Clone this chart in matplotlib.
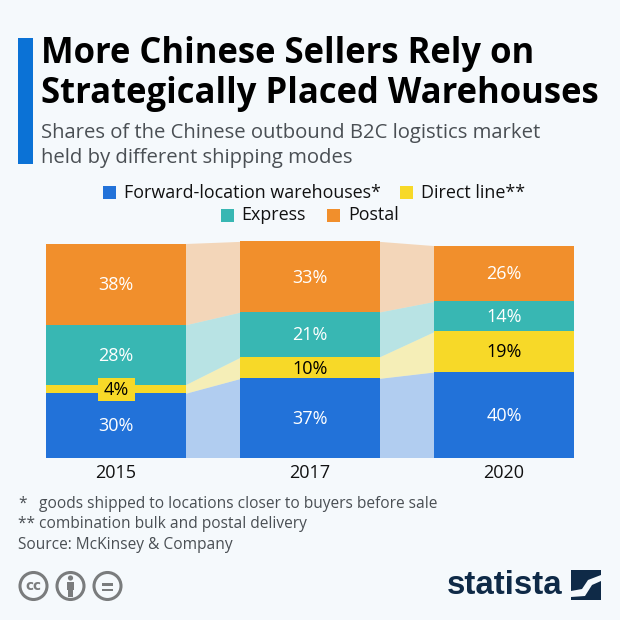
import matplotlib
matplotlib.use('Agg')
import matplotlib.pyplot as plt
from matplotlib.patches import Rectangle, Circle, Polygon

years = ['2015', '2017', '2020']
forward = [30, 37, 40]
direct = [4, 10, 19]
express = [28, 21, 14]
postal = [38, 33, 26]

series_names = ['Forward-location warehouses*', 'Direct line**', 'Express', 'Postal']
series_values = [forward, direct, express, postal]
colors = ['#2272d9', '#f7d928', '#38b7b3', '#f18f2c']
label_colors = ['white', 'black', 'white', 'white']

BG = '#f5f9fc'
FONT = 'Open Sans'
PX = 0.72  # px -> pt at 100 dpi
BAR_W = 140 / 194
OVERLAP = 0.004  # bands run slightly under the bars so no seam shows

fig = plt.figure(figsize=(6.2, 6.2), dpi=100, facecolor=BG)

# chart area, in data units
ax = fig.add_axes([46 / 620, (620 - 457.5) / 620, 528 / 620, 214 / 620])
ax.set_facecolor('none')
ax.set_xlim(-70 / 194, 2 + 70 / 194)
ax.set_ylim(0, 100)
for s in ax.spines.values():
    s.set_visible(False)
ax.set_yticks([])
ax.set_xticks(range(len(years)))
ax.set_xticklabels(years, family=FONT, fontsize=18 * PX, color='#111111')
ax.tick_params(axis='x', length=0, pad=5)

bottoms = [0, 0, 0]
for values, color, lab_col in zip(series_values, colors, label_colors):
    tops = [b + v for b, v in zip(bottoms, values)]
    ax.bar(range(len(years)), values, bottom=bottoms, width=BAR_W, color=color,
           linewidth=0, clip_on=False, zorder=2)
    # pale bands joining neighbouring bars
    for i in range(len(years) - 1):
        xs = [i + BAR_W / 2 - OVERLAP, i + 1 - BAR_W / 2 + OVERLAP]
        ax.fill_between(xs, [bottoms[i], bottoms[i + 1]], [tops[i], tops[i + 1]],
                        color=color, alpha=0.32, linewidth=0, clip_on=False, zorder=1)
    for i, v in enumerate(values):
        mid = bottoms[i] + v / 2
        if v < 6:
            # thin segment: label sits on its own patch
            ax.add_patch(Rectangle((i - 18.5 / 194, mid - 11.5 / 2.14), 37 / 194, 23 / 2.14,
                                   facecolor=color, edgecolor='none', zorder=4, clip_on=False))
        ax.annotate(f'{v}%', (i, mid), xytext=(0, 0.8), textcoords='offset points',
                    ha='center', va='center_baseline', family=FONT,
                    fontsize=18 * PX, color=lab_col, zorder=5)
    bottoms = tops

# overlay in pixel coordinates for header, legend and footer
ov = fig.add_axes([0, 0, 1, 1], zorder=-1)
ov.set_xlim(0, 620)
ov.set_ylim(620, 0)
ov.axis('off')

ov.add_patch(Rectangle((18, 38), 15, 126, facecolor='#0b72d6', edgecolor='none'))

ov.text(41, 54.5, 'More Chinese Sellers Rely on', family=FONT, fontweight='bold',
        fontsize=34.7 * PX, color='black', va='center', ha='left')
ov.text(41, 94.5, 'Strategically Placed Warehouses', family=FONT, fontweight='bold',
        fontsize=34.7 * PX, color='black', va='center', ha='left')
ov.text(41, 133, 'Shares of the Chinese outbound B2C logistics market', family=FONT,
        fontsize=20.3 * PX, color='#4a4f54', va='center', ha='left')
ov.text(41, 158, 'held by different shipping modes', family=FONT,
        fontsize=20.3 * PX, color='#4a4f54', va='center', ha='left')

# legend rows
slots = [(103, 192.5), (400, 192.5), (220.5, 215), (327, 215)]
for name, color, (x, y) in zip(series_names, colors, slots):
    ov.add_patch(Rectangle((x, y - 6.5), 13, 13, facecolor=color, edgecolor='none'))
    ov.text(x + 21, y, name, family=FONT, fontsize=17.85 * PX, color='#111111',
            va='center', ha='left')

# footnotes
foot = '#4a4f54'
ov.text(18, 504, '*', family=FONT, fontsize=15.5 * PX, color=foot, va='center')
ov.text(39, 504, 'goods shipped to locations closer to buyers before sale', family=FONT,
        fontsize=15.5 * PX, color=foot, va='center')
ov.text(18, 524, '** combination bulk and postal delivery', family=FONT,
        fontsize=15.5 * PX, color=foot, va='center')
ov.text(18, 545, 'Source: McKinsey & Company', family=FONT,
        fontsize=15.5 * PX, color=foot, va='center')

# licence icons
grey = '#7a7c7d'
for cx in (33.5, 70.5, 107.5):
    ov.add_patch(Circle((cx, 586), 13.5, facecolor='none', edgecolor=grey, linewidth=2.2))
ov.text(33.5, 586, 'cc', family='DejaVu Sans', fontweight='bold', fontsize=13.5 * PX,
        color=grey, ha='center', va='center')
ov.add_patch(Circle((70.5, 578), 2.6, facecolor=grey, edgecolor='none'))
ov.add_patch(Rectangle((67, 582), 7, 7.5, facecolor=grey, edgecolor='none'))
ov.add_patch(Rectangle((68, 589), 5, 8, facecolor=grey, edgecolor='none'))
ov.add_patch(Rectangle((102, 583), 11, 2.8, facecolor=grey, edgecolor='none'))
ov.add_patch(Rectangle((102, 588.5), 11, 2.8, facecolor=grey, edgecolor='none'))

# logo
navy = '#0f2a47'
ov.text(447, 586, 'statista', family='Liberation Sans',
        fontweight='bold', fontsize=33 * PX, color=navy, va='center', ha='left')
ov.add_patch(Rectangle((571, 570), 30, 30, facecolor=navy, edgecolor='none'))
ov.add_patch(Polygon([(571, 591), (582, 589), (588, 580), (601, 575), (601, 581),
                      (592, 585), (585, 596), (571, 597)],
                     facecolor=BG, edgecolor='none'))

fig.savefig('out.png', dpi=100, facecolor=BG)
